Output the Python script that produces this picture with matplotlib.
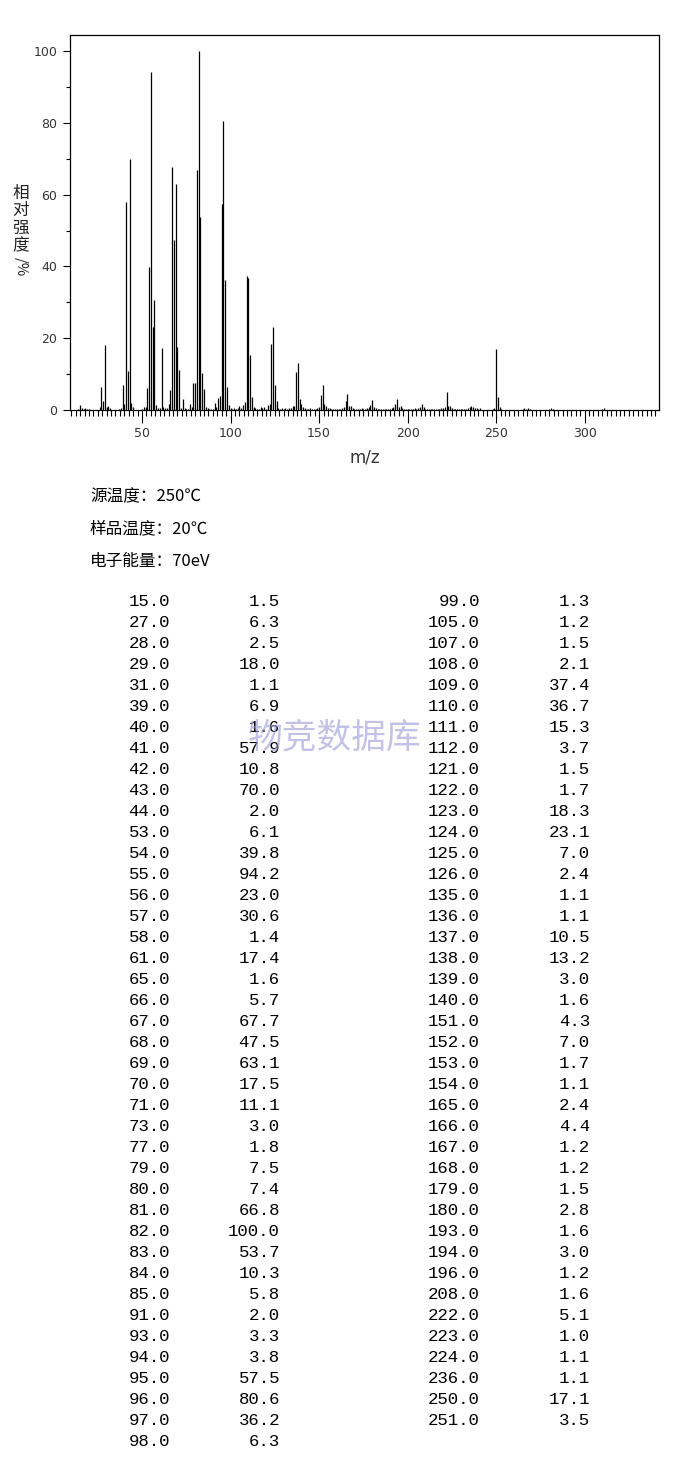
import matplotlib
matplotlib.use("Agg")
import matplotlib.pyplot as plt
import matplotlib.ticker as mtick

plt.rcParams["font.family"] = ["DejaVu Sans"]

CJK = ["Noto Sans CJK SC", "DejaVu Sans"]

# peak table (m/z, relative intensity %), two columns as printed
left_mz = [15, 27, 28, 29, 31, 39, 40, 41, 42, 43, 44, 53, 54, 55, 56, 57, 58, 61,
           65, 66, 67, 68, 69, 70, 71, 73, 77, 79, 80, 81, 82, 83, 84, 85, 91, 93,
           94, 95, 96, 97, 98]
left_int = [1.5, 6.3, 2.5, 18.0, 1.1, 6.9, 1.6, 57.9, 10.8, 70.0, 2.0, 6.1, 39.8, 94.2,
            23.0, 30.6, 1.4, 17.4, 1.6, 5.7, 67.7, 47.5, 63.1, 17.5, 11.1, 3.0, 1.8,
            7.5, 7.4, 66.8, 100.0, 53.7, 10.3, 5.8, 2.0, 3.3, 3.8, 57.5, 80.6, 36.2, 6.3]
right_mz = [99, 105, 107, 108, 109, 110, 111, 112, 121, 122, 123, 124, 125, 126, 135,
            136, 137, 138, 139, 140, 151, 152, 153, 154, 165, 166, 167, 168, 179, 180,
            193, 194, 196, 208, 222, 223, 224, 236, 250, 251]
right_int = [1.3, 1.2, 1.5, 2.1, 37.4, 36.7, 15.3, 3.7, 1.5, 1.7, 18.3, 23.1, 7.0, 2.4,
             1.1, 1.1, 10.5, 13.2, 3.0, 1.6, 4.3, 7.0, 1.7, 1.1, 2.4, 4.4, 1.2, 1.2,
             1.5, 2.8, 1.6, 3.0, 1.2, 1.6, 5.1, 1.0, 1.1, 1.1, 17.1, 3.5]

# small peaks seen in the spectrum but not in the table (estimated)
minor_mz = [14, 16, 17, 18, 19, 20, 26, 30, 32, 37,
            38, 45, 50, 51, 52, 59, 60, 62, 63, 64,
            72, 74, 75, 76, 78, 86, 87, 88, 89, 90,
            92, 100, 101, 102, 103, 104, 106, 113, 114, 115,
            116, 117, 118, 119, 120, 127, 128, 129, 130, 131,
            132, 133, 134, 141, 142, 143, 144, 145, 146, 147,
            148, 149, 150, 155, 156, 157, 158, 159, 160, 161,
            162, 163, 164, 169, 170, 171, 172, 173, 174, 175,
            176, 177, 178, 181, 182, 183, 184, 185, 186, 187,
            188, 189, 190, 191, 192, 195, 197, 198, 199, 200,
            201, 202, 203, 204, 205, 206, 207, 209, 210, 211,
            212, 213, 214, 215, 216, 217, 218, 219, 220, 221,
            225, 226, 227, 228, 229, 230, 231, 232, 233, 234,
            235, 237, 238, 239, 240, 241, 248, 249, 252, 253,
            265, 266, 267, 268, 269, 280, 281, 282, 310, 311]
minor_int = [0.4, 0.5, 0.3, 0.6, 0.3, 0.4, 0.7, 0.8, 0.5, 0.4,
             0.6, 0.7, 0.4, 0.8, 0.9, 0.6, 0.5, 0.8, 0.6, 0.5,
             0.6, 0.5, 0.4, 0.3, 0.9, 0.7, 0.5, 0.4, 0.4, 0.3,
             0.8, 0.5, 0.4, 0.6, 0.4, 0.5, 0.6, 0.9, 0.5, 0.4,
             0.3, 0.8, 0.5, 0.7, 0.4, 0.6, 0.4, 0.5, 0.3, 0.6,
             0.4, 0.5, 0.6, 0.7, 0.5, 0.4, 0.3, 0.5, 0.4, 0.4,
             0.3, 0.5, 0.9, 0.6, 0.5, 0.4, 0.3, 0.4, 0.3, 0.4,
             0.3, 0.5, 0.9, 0.5, 0.4, 0.3, 0.4, 0.3, 0.5, 0.4,
             0.3, 0.5, 0.9, 0.8, 0.5, 0.4, 0.3, 0.4, 0.3, 0.4,
             0.3, 0.4, 0.3, 0.6, 0.8, 0.9, 0.6, 0.4, 0.3, 0.4,
             0.3, 0.4, 0.3, 0.5, 0.4, 0.6, 0.9, 0.7, 0.4, 0.3,
             0.4, 0.3, 0.4, 0.3, 0.4, 0.3, 0.4, 0.5, 0.6, 0.9,
             0.6, 0.4, 0.3, 0.4, 0.3, 0.4, 0.3, 0.4, 0.3, 0.5,
             0.8, 0.7, 0.5, 0.6, 0.4, 0.5, 0.4, 0.6, 0.7, 0.4,
             0.4, 0.5, 0.4, 0.5, 0.4, 0.4, 0.5, 0.4, 0.4, 0.5]

conditions = ["源温度：250℃", "样品温度：20℃", "电子能量：70eV"]

W, H = 696, 1474
fig = plt.figure(figsize=(W / 100, H / 100), dpi=100)


def fx(px):
    return px / W


def fy(py):
    return 1 - py / H


ax = fig.add_axes([fx(70), fy(410), fx(659) - fx(70), fy(35) - fy(410)])

all_mz = left_mz + right_mz + minor_mz
all_int = left_int + right_int + minor_int
ax.vlines(all_mz, 0, all_int, color="black", linewidth=0.9)

ax.set_xlim(9.3, 342)
ax.set_ylim(0, 104.5)

ax.xaxis.set_major_locator(mtick.MultipleLocator(50))
ax.xaxis.set_minor_locator(mtick.MultipleLocator(2.5))
ax.yaxis.set_major_locator(mtick.MultipleLocator(20))
ax.yaxis.set_minor_locator(mtick.MultipleLocator(10))

ax.tick_params(axis="x", which="major", direction="out", length=9, width=0.8,
               labelsize=9, pad=3, labelcolor="#333333")
ax.tick_params(axis="x", which="minor", direction="out", length=4.5, width=0.8)
ax.tick_params(axis="y", which="major", direction="out", length=5, width=0.8,
               labelsize=9, pad=4, labelcolor="#333333")
ax.tick_params(axis="y", which="minor", direction="out", length=3, width=0.8)

for s in ax.spines.values():
    s.set_linewidth(0.9)

ax.set_xlabel("m/z", fontsize=12, color="#333333", labelpad=6)

# vertical y label: upright characters plus rotated "/%"
for i, ch in enumerate("相对强度"):
    fig.text(fx(21), fy(193 + i * 17.5), ch, family=CJK, fontsize=12,
             ha="center", va="center", color="#222222")
fig.text(fx(21), fy(267), "/%", family=CJK, fontsize=10.5, rotation=270,
         ha="center", va="center", color="#222222")

# acquisition conditions
for i, t in enumerate(conditions):
    fig.text(fx(90), fy(497 + i * 32), t, family=CJK, fontsize=12,
             ha="left", va="center", color="black")

# peak table
row0, dy = 602, 20.975
for i, (m, v) in enumerate(zip(left_mz, left_int)):
    y = fy(row0 + i * dy)
    fig.text(fx(170), y, f"{m:.1f}", family="Liberation Mono", fontsize=12.5,
             ha="right", va="center")
    fig.text(fx(280), y, f"{v:.1f}", family="Liberation Mono", fontsize=12.5,
             ha="right", va="center")
for i, (m, v) in enumerate(zip(right_mz, right_int)):
    y = fy(row0 + i * dy)
    fig.text(fx(480), y, f"{m:.1f}", family="Liberation Mono", fontsize=12.5,
             ha="right", va="center")
    fig.text(fx(590), y, f"{v:.1f}", family="Liberation Mono", fontsize=12.5,
             ha="right", va="center")

# watermark
fig.text(fx(335), fy(738), "物竞数据库", family=CJK, fontsize=25,
         ha="center", va="center", color="#9a9ad8", alpha=0.6)

fig.savefig("out.png", dpi=100)
